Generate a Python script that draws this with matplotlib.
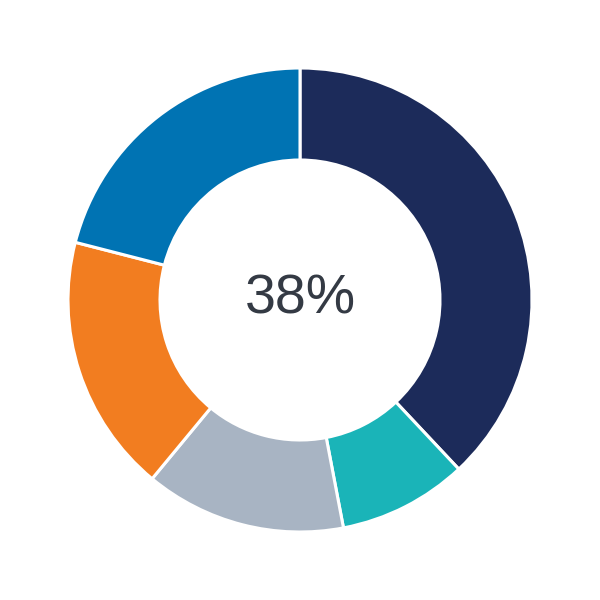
import matplotlib
matplotlib.use("Agg")
import matplotlib.pyplot as plt

# Доли сегментов (по часовой стрелке от верха)
labels = ["A", "B", "C", "D", "E"]
values = [38, 9, 14, 18, 21]
colors = ["#1c2b5a", "#1ab4b8", "#a8b4c3", "#f27d20", "#0073b3"]
center_text = "38%"

fig = plt.figure(figsize=(6, 6), dpi=100)
ax = fig.add_axes([0, 0, 1, 1])

ax.pie(values, colors=colors, startangle=90, counterclock=False,
       radius=232, center=(0, 0),
       wedgeprops=dict(width=92, edgecolor="white", linewidth=2.2))

ax.text(0, 0, center_text, ha="center", va="center", fontsize=40,
        color="#343a44", family=["Liberation Sans", "DejaVu Sans"])

ax.set_xlim(-300, 300)
ax.set_ylim(-300, 300)
ax.set_aspect("equal")
ax.axis("off")

fig.savefig("out.png", dpi=100, facecolor="white")
